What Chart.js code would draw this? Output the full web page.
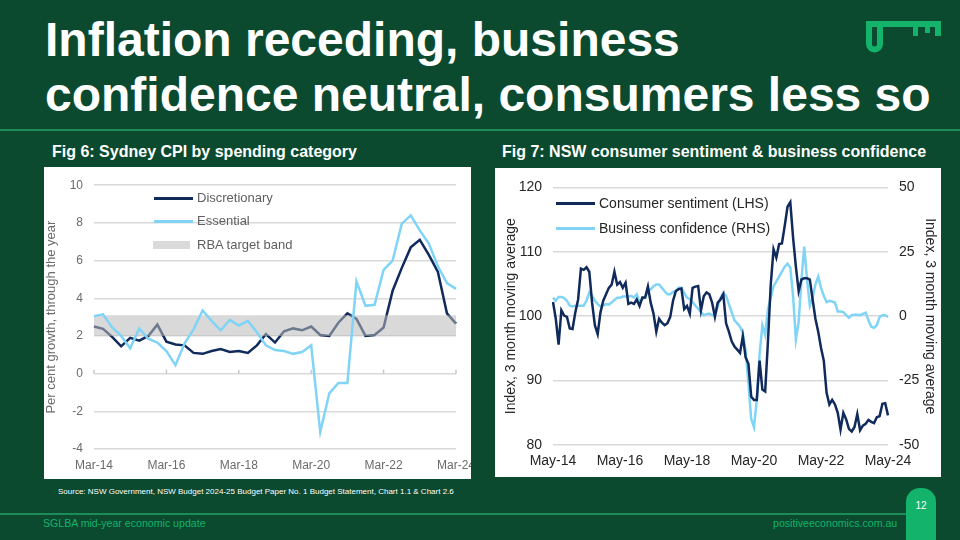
<!DOCTYPE html>
<html>
<head>
<meta charset="utf-8">
<script src="https://cdn.jsdelivr.net/npm/chart.js@4.4.1/dist/chart.umd.min.js"></script>
<style>
  html, body { margin: 0; padding: 0; }
  body {
    width: 960px; height: 540px; position: relative; overflow: hidden;
    background: #0b4a2f;
    font-family: "Liberation Sans", Arial, sans-serif;
  }
  .title {
    position: absolute; left: 45px; top: 12px;
    color: #fff; font-weight: bold; font-size: 48px; line-height: 55px;
    white-space: nowrap;
  }
  .rule { position: absolute; left: 0; height: 2px; background: #1d8c58; }
  .fig {
    position: absolute; top: 144px; color: #fff; font-weight: bold;
    font-size: 16px; line-height: 16px; white-space: nowrap;
  }
  .panel { position: absolute; background: #fff; overflow: hidden; }
  .panel canvas { position: absolute; left: 0; top: 0; }
  .leg { position: absolute; white-space: nowrap; height: 18px; line-height: 18px; }
  .swatch { position: absolute; }
  .source { position: absolute; left: 58px; top: 487px; color: #fff; font-size: 8px; line-height: 10px; white-space: nowrap; }
  .foot { position: absolute; top: 517px; color: #13b36b; font-size: 10.6px; line-height: 12px; white-space: nowrap; }
  .badge {
    position: absolute; left: 906px; top: 488px; width: 30px; height: 60px;
    background: #13b36b; border-radius: 14px 14px 0 0;
    color: #fff; font-size: 10px; text-align: center; line-height: 36px;
  }
</style>
</head>
<body>

<div class="title">Inflation receding, business<br>confidence neutral, consumers less so</div>

<svg style="position:absolute;left:860px;top:16px" width="90" height="42">
  <g fill="none" stroke="#13b36b" stroke-width="6">
    <path d="M9 5 V28 A5.5 5.5 0 0 0 20 28 V5"/>
  </g>
  <g fill="#13b36b">
    <rect x="6" y="5" width="75" height="6"/>
    <rect x="53" y="5" width="5" height="15"/>
    <rect x="65" y="5" width="5" height="12"/>
    <rect x="75" y="5" width="6" height="15"/>
  </g>
</svg>

<div class="rule" style="top:129px; width:960px;"></div>

<div class="fig" style="left:52px;">Fig 6: Sydney CPI by spending category</div>
<div class="fig" style="left:502px;">Fig 7: NSW consumer sentiment &amp; business confidence</div>

<div class="panel" id="p1" style="left:44px; top:167px; width:427px; height:312px;">
  <canvas id="cpi" width="440" height="312"></canvas>
  <div class="swatch" style="left:110px; top:30px; width:39px; height:3px; background:#102a5c;"></div>
  <div class="leg" style="left:153px; top:22px; color:#5f5f5f; font-size:13px;">Discretionary</div>
  <div class="swatch" style="left:110px; top:53px; width:39px; height:3px; background:#80d4f6;"></div>
  <div class="leg" style="left:153px; top:45px; color:#5f5f5f; font-size:13px;">Essential</div>
  <div class="swatch" style="left:109px; top:74px; width:37px; height:8px; background:#dadada;"></div>
  <div class="leg" style="left:153px; top:69px; color:#5f5f5f; font-size:13px;">RBA target band</div>
</div>

<div class="panel" id="p2" style="left:495px; top:168px; width:446px; height:309px;">
  <canvas id="sent" width="446" height="309"></canvas>
  <div class="swatch" style="left:61px; top:34px; width:39px; height:3px; background:#102a5c;"></div>
  <div class="leg" style="left:104px; top:26px; color:#262626; font-size:14px;">Consumer sentiment (LHS)</div>
  <div class="swatch" style="left:61px; top:59px; width:39px; height:3px; background:#80d4f6;"></div>
  <div class="leg" style="left:104px; top:51px; color:#262626; font-size:14px;">Business confidence (RHS)</div>
</div>

<div class="source">Source: NSW Government, NSW Budget 2024-25 Budget Paper No. 1 Budget Statement, Chart 1.1 &amp; Chart 2.6</div>
<div class="rule" style="top:513px; width:906px;"></div>
<div class="foot" style="left:43px;">SGLBA mid-year economic update</div>
<div class="foot" style="left:773px;">positiveeconomics.com.au</div>
<div class="badge">12</div>

<script>
// ---- Fig 6: Sydney CPI, quarterly Mar-14 .. Mar-24 ----
const cpiTicks = ['Mar-14', 'Mar-16', 'Mar-18', 'Mar-20', 'Mar-22', 'Mar-24'];
const discretionary = [2.5, 2.38, 1.95, 1.45, 1.9, 1.75, 2.0, 2.6, 1.7, 1.55,
  1.5, 1.1, 1.05, 1.2, 1.3, 1.15, 1.2, 1.1, 1.5, 2.1,
  1.65, 2.25, 2.4, 2.3, 2.5, 2.05, 2.0, 2.7, 3.2, 2.9,
  2.0, 2.05, 2.45, 4.4, 5.6, 6.7, 7.1, 6.3, 5.4, 3.2, 2.65];
const essential = [3.05, 3.15, 2.45, 2.0, 1.35, 2.4, 1.85, 1.65, 1.2, 0.45,
  1.6, 2.35, 3.35, 2.8, 2.3, 2.85, 2.55, 2.8, 2.2, 1.5,
  1.25, 1.2, 1.05, 1.15, 1.5, -3.1, -1.05, -0.5, -0.5, 4.9,
  3.6, 3.65, 5.5, 6.0, 7.95, 8.4, 7.6, 6.9, 5.7, 4.8, 4.5];
const rbaBand = [2, 3.1];

// ---- Fig 7: NSW sentiment, monthly May-14 .. May-24 ----
const sentTicks = ['May-14', 'May-16', 'May-18', 'May-20', 'May-22', 'May-24'];
const consumer = [102.2, 99.6, 95.6, 100.9, 100.1, 99.9, 98.1, 98.0, 100.6, 102.6,
  107.4, 107.2, 107.6, 106.9, 102.1, 98.6, 97.2, 100.6, 102.4, 103.4,
  104.4, 104.9, 106.9, 104.9, 105.3, 104.4, 105.2, 101.9, 102.1, 101.9,
  102.6, 101.6, 102.9, 102.9, 104.6, 102.1, 100.4, 97.6, 99.6, 99.0,
  98.6, 98.9, 99.9, 102.4, 103.9, 104.2, 104.3, 101.1, 101.6, 100.4,
  104.4, 104.6, 104.7, 100.9, 103.1, 103.7, 103.4, 102.1, 99.9, 102.1,
  102.6, 103.4, 98.9, 97.6, 96.1, 95.3, 94.8, 94.3, 96.9, 93.6,
  92.6, 87.5, 87.0, 87.0, 93.1, 88.6, 88.3, 96.1, 104.9, 110.4,
  109.1, 111.2, 111.3, 114.0, 117.0, 117.7, 112.2, 107.7, 103.9, 105.7,
  105.9, 105.9, 105.7, 102.6, 99.6, 97.6, 95.1, 93.1, 88.1, 86.3,
  87.0, 86.3, 85.0, 82.4, 85.0, 84.0, 82.5, 82.1, 82.8, 84.8,
  82.3, 83.0, 83.3, 83.9, 83.6, 83.4, 84.3, 84.5, 86.4, 86.5, 84.6];
const business = [7.2, 6.0, 7.5, 7.5, 7.0, 6.0, 4.1, 3.8, 4.1, 4.1,
  4.1, 4.1, 6.0, 9.1, 7.9, 6.0, 4.7, 3.8, 4.1, 4.7,
  4.5, 5.3, 6.3, 7.2, 7.2, 7.6, 7.6, 7.6, 7.9, 7.2,
  8.5, 5.3, 6.6, 7.2, 9.7, 10.4, 11.6, 12.3, 12.3, 11.0,
  9.7, 8.5, 8.5, 9.4, 9.7, 11.0, 11.0, 9.1, 7.2, 6.6,
  5.5, 4.1, 2.9, 1.6, 0.4, 0.8, 1.0, 0.4, 0.4, 3.8,
  7.2, 9.1, 7.9, 4.7, 1.6, -1.6, -2.8, -4.1, -6.6, -13.5,
  -26.1, -39.9, -43.1, -32.4, -14.8, -3.5, -7.2, 2.8, 7.2, 11.6,
  13.5, 15.4, 17.3, 19.2, 20.4, 18.9, 7.9, -9.1, -2.2, 14.2,
  27.0, 14.2, 4.1, 7.2, 12.3, 15.4, 11.0, 7.9, 5.5, 6.0,
  5.7, 5.3, 1.8, 1.8, 1.6, 0.4, -0.6, 0.4, 0.6, 0.6,
  0.4, 0.9, 1.4, -1.6, -4.1, -4.5, -3.5, -0.3, 0.4, 0.4, -0.3];

const NAVY = '#102a5c';
const SKY = '#80d4f6';
const GRID = '#d9d9d9';
const MON = ['Jan','Feb','Mar','Apr','May','Jun','Jul','Aug','Sep','Oct','Nov','Dec'];

// period labels like 'Mar-14'
function periodLabels(startMonth, startYear, count, step) {
  const out = [];
  for (let i = 0; i < count; i++) {
    const m = startMonth + i * step;
    const y = startYear + Math.floor(m / 12);
    out.push(MON[m % 12] + '-' + String(y % 100).padStart(2, '0'));
  }
  return out;
}

Chart.defaults.font.family = '"Liberation Sans", Arial, sans-serif';
Chart.defaults.animation = false;

const cpiLabels = periodLabels(2, 2014, discretionary.length, 3);
const sentLabels = periodLabels(4, 2014, consumer.length, 1);

// grey band sits over discretionary but under essential
const bandPlugin = {
  id: 'rbaBand',
  beforeDatasetDraw(chart, args) {
    if (args.index !== 0) return;
    const { ctx, chartArea, scales: { y } } = chart;
    const top = y.getPixelForValue(rbaBand[1]);
    const bottom = y.getPixelForValue(rbaBand[0]);
    ctx.save();
    ctx.fillStyle = 'rgba(185,185,185,0.55)';
    ctx.fillRect(chartArea.left, top, chartArea.right - chartArea.left, bottom - top);
    ctx.restore();
  }
};

// little tick marks on the zero line
const zeroTicks = {
  id: 'zeroTicks',
  beforeDatasetsDraw(chart) {
    const { ctx, scales: { x, y } } = chart;
    const y0 = y.getPixelForValue(0);
    ctx.save();
    ctx.strokeStyle = '#c8c8c8';
    ctx.lineWidth = 1.5;
    cpiLabels.forEach((l, i) => {
      if (!cpiTicks.includes(l)) return;
      const px = x.getPixelForValue(i);
      ctx.beginPath();
      ctx.moveTo(px, y0 - 4);
      ctx.lineTo(px, y0);
      ctx.stroke();
    });
    ctx.restore();
  }
};

new Chart(document.getElementById('cpi'), {
  type: 'line',
  data: {
    labels: cpiLabels,
    datasets: [
      { label: 'Essential', data: essential, borderColor: SKY, borderWidth: 2.5, pointRadius: 0, tension: 0 },
      { label: 'Discretionary', data: discretionary, borderColor: NAVY, borderWidth: 2.5, pointRadius: 0, tension: 0 }
    ]
  },
  options: {
    responsive: false,
    layout: { padding: { top: 10, right: 27, left: 0, bottom: 0 } },
    plugins: { legend: { display: false }, tooltip: { enabled: false } },
    scales: {
      x: {
        grid: { display: false, drawTicks: false },
        border: { display: false },
        ticks: {
          autoSkip: false, maxRotation: 0, padding: 9, color: '#6b6b6b', font: { size: 12 },
          callback(v) { const l = this.getLabelForValue(v); return cpiTicks.includes(l) ? l : ''; }
        },
        afterFit(s) { s.height = 30; }
      },
      y: {
        min: -4, max: 10,
        ticks: { stepSize: 2, padding: 11, color: '#6b6b6b', font: { size: 12 } },
        grid: { color: GRID, lineWidth: 1.5, drawTicks: false },
        border: { display: false },
        title: { display: true, text: 'Per cent growth, through the year', color: '#6b6b6b', font: { size: 13 }, padding: { top: 0, bottom: 0 } },
        afterFit(s) { s.width = 50; }
      }
    }
  },
  plugins: [bandPlugin, zeroTicks]
});

new Chart(document.getElementById('sent'), {
  type: 'line',
  data: {
    labels: sentLabels,
    datasets: [
      { label: 'Consumer sentiment (LHS)', data: consumer, yAxisID: 'y', borderColor: NAVY, borderWidth: 2.5, pointRadius: 0, tension: 0 },
      { label: 'Business confidence (RHS)', data: business, yAxisID: 'y1', borderColor: SKY, borderWidth: 2.5, pointRadius: 0, tension: 0 }
    ]
  },
  options: {
    responsive: false,
    layout: { padding: { top: 12, right: 0, left: 0, bottom: 0 } },
    plugins: { legend: { display: false }, tooltip: { enabled: false } },
    scales: {
      x: {
        grid: { display: false, drawTicks: false },
        border: { display: false },
        ticks: {
          autoSkip: false, maxRotation: 0, padding: 8, color: '#262626', font: { size: 14 },
          callback(v) { const l = this.getLabelForValue(v); return sentTicks.includes(l) ? l : ''; }
        },
        afterFit(s) { s.height = 32; }
      },
      y: {
        position: 'left', min: 80, max: 120,
        ticks: { stepSize: 10, padding: 11, color: '#262626', font: { size: 14 } },
        grid: { color: GRID, lineWidth: 1.5, drawTicks: false },
        border: { display: false },
        title: { display: true, text: 'Index, 3 month moving average', color: '#262626', font: { size: 14 }, padding: { top: 8, bottom: 0 } },
        afterFit(s) { s.width = 58; }
      },
      y1: {
        position: 'right', min: -50, max: 50,
        ticks: { stepSize: 25, padding: 11, color: '#262626', font: { size: 14 } },
        grid: { display: false, drawTicks: false },
        border: { display: false },
        title: { display: true, text: 'Index, 3 month moving average', color: '#262626', font: { size: 14 }, padding: { top: 3, bottom: 0 } },
        afterFit(s) { s.width = 53; }
      }
    }
  }
});
</script>
</body>
</html>
